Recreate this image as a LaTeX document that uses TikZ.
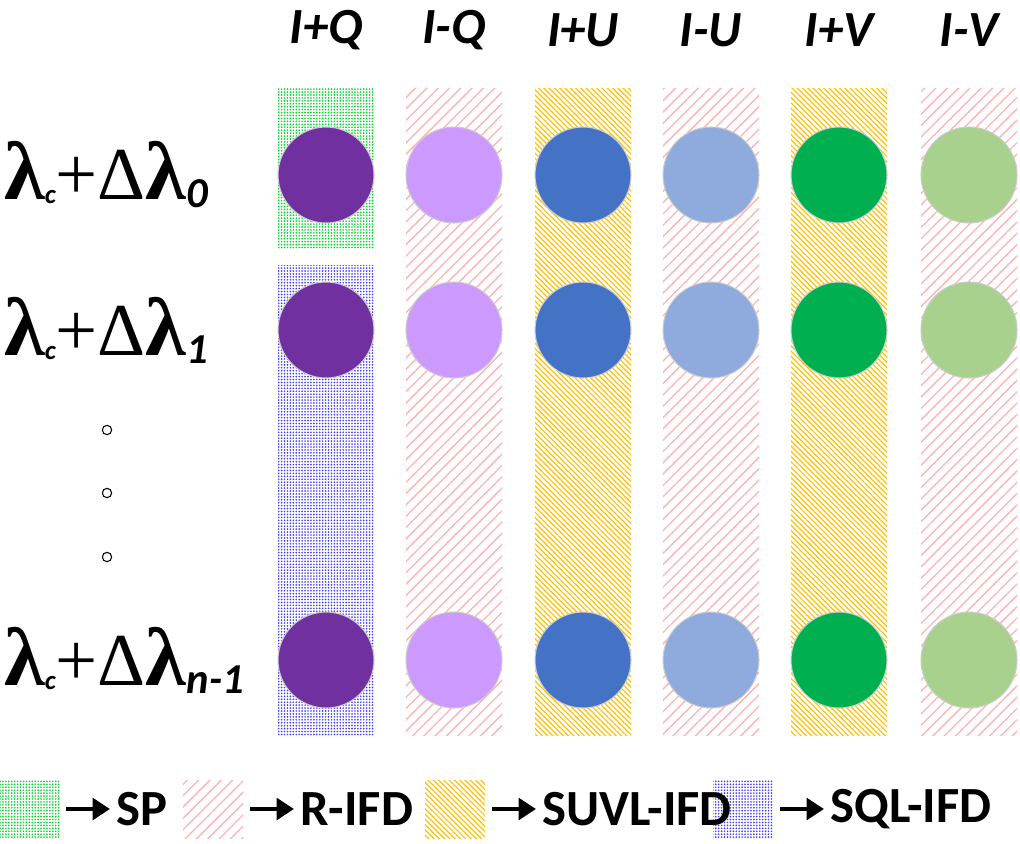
\documentclass[tikz,border=0pt]{standalone}
\usepackage{fontspec}
\setmainfont{Carlito}
\newfontfamily\lsf{Liberation Serif}
\usetikzlibrary{patterns.meta,arrows.meta}
\newcommand{\lam}[1]{{\lsf\bfseries\fontsize{62}{62}\selectfont λ}\raisebox{-3pt}{\fontsize{20}{20}\selectfont\bfseries\itshape c}{\lsf\fontsize{56}{56}\selectfont +Δ}{\lsf\bfseries\fontsize{62}{62}\selectfont λ}\raisebox{-6pt}{\fontsize{32}{32}\selectfont\bfseries\itshape #1}}
\begin{document}
\begin{tikzpicture}[x=0.75pt,y=-0.75pt,
 dotpat/.style={pattern={Dots[distance=2.2pt,radius=0.7pt]},pattern color=#1},
 redpat/.style={pattern={Lines[angle=45,distance=6pt,line width=1pt]},pattern color=red!30},
 yelpat/.style={pattern={Lines[angle=-45,distance=2.8pt,line width=0.9pt]},pattern color={rgb,255:red,255;green,192;blue,0}},
 dot/.style={circle,minimum size=72pt,inner sep=0,draw=black!20,line width=0.8pt,fill=#1},
 hdr/.style={font=\fontsize{38}{40}\selectfont\bfseries\itshape},
 leg/.style={font=\fontsize{38}{40}\selectfont\bfseries,anchor=west,inner sep=0}]
\useasboundingbox (0,0) rectangle (1020,843);
\definecolor{cA}{HTML}{7030A0}\definecolor{cB}{HTML}{CC99FF}
\definecolor{cC}{HTML}{4472C4}\definecolor{cD}{HTML}{8FAADC}
\definecolor{cE}{HTML}{00B050}\definecolor{cF}{HTML}{A9D18E}
% column backgrounds
\path[dotpat=green!70!teal] (278,88) rectangle (374,248);
\path[dotpat=blue!75] (278,265) rectangle (374,735);
\foreach \x in {454,711,969}{\path[redpat] (\x-48,88) rectangle (\x+48,735);}
\foreach \x in {583,839}{\path[yelpat] (\x-48,88) rectangle (\x+48,735);}
% headers
\foreach \x/\t [count=\i] in {326/I+Q,454/I-Q,583/I+U,711/I-U,839/I+V,969/I-V}
  \node[hdr] (h\i) at (\x,30) {\t};
% circles
\foreach \y [count=\r] in {175,330,660}{
 \foreach \x/\c [count=\i] in {326/cA,454/cB,583/cC,711/cD,839/cE,969/cF}
  \node[dot=\c] (c\r\i) at (\x,\y) {};}
% row labels
\node[anchor=west,inner sep=0] (r1) at (4,175) {\lam{0}};
\node[anchor=west,inner sep=0] (r2) at (4,330) {\lam{1}};
\node[anchor=west,inner sep=0] (r3) at (4,660) {\lam{n-1}};
\foreach \y [count=\i] in {430,493,557}
  \node[circle,draw,line width=0.8pt,inner sep=0,minimum size=7pt] (d\i) at (107,\y) {};
% legend
\path[dotpat=green!70!teal] (0,780) rectangle (60,838);
\path[redpat] (183,780) rectangle (243,838);
\path[yelpat] (425,780) rectangle (485,838);
\path[dotpat=blue!75] (713,780) rectangle (773,838);
\foreach \x/\t [count=\i] in {64/SP,248/R-IFD,490/SUVL-IFD,778/SQL-IFD}{
 \coordinate (a\i) at (\x+2,809);
 \coordinate (b\i) at (\x+46,809);
 \draw[line width=3.5pt,-{Triangle[length=13pt,width=16pt]}] (a\i) -- (b\i);
 \node[leg] (t\i) at (\x+52,809) {\t};}
\end{tikzpicture}
\end{document}
